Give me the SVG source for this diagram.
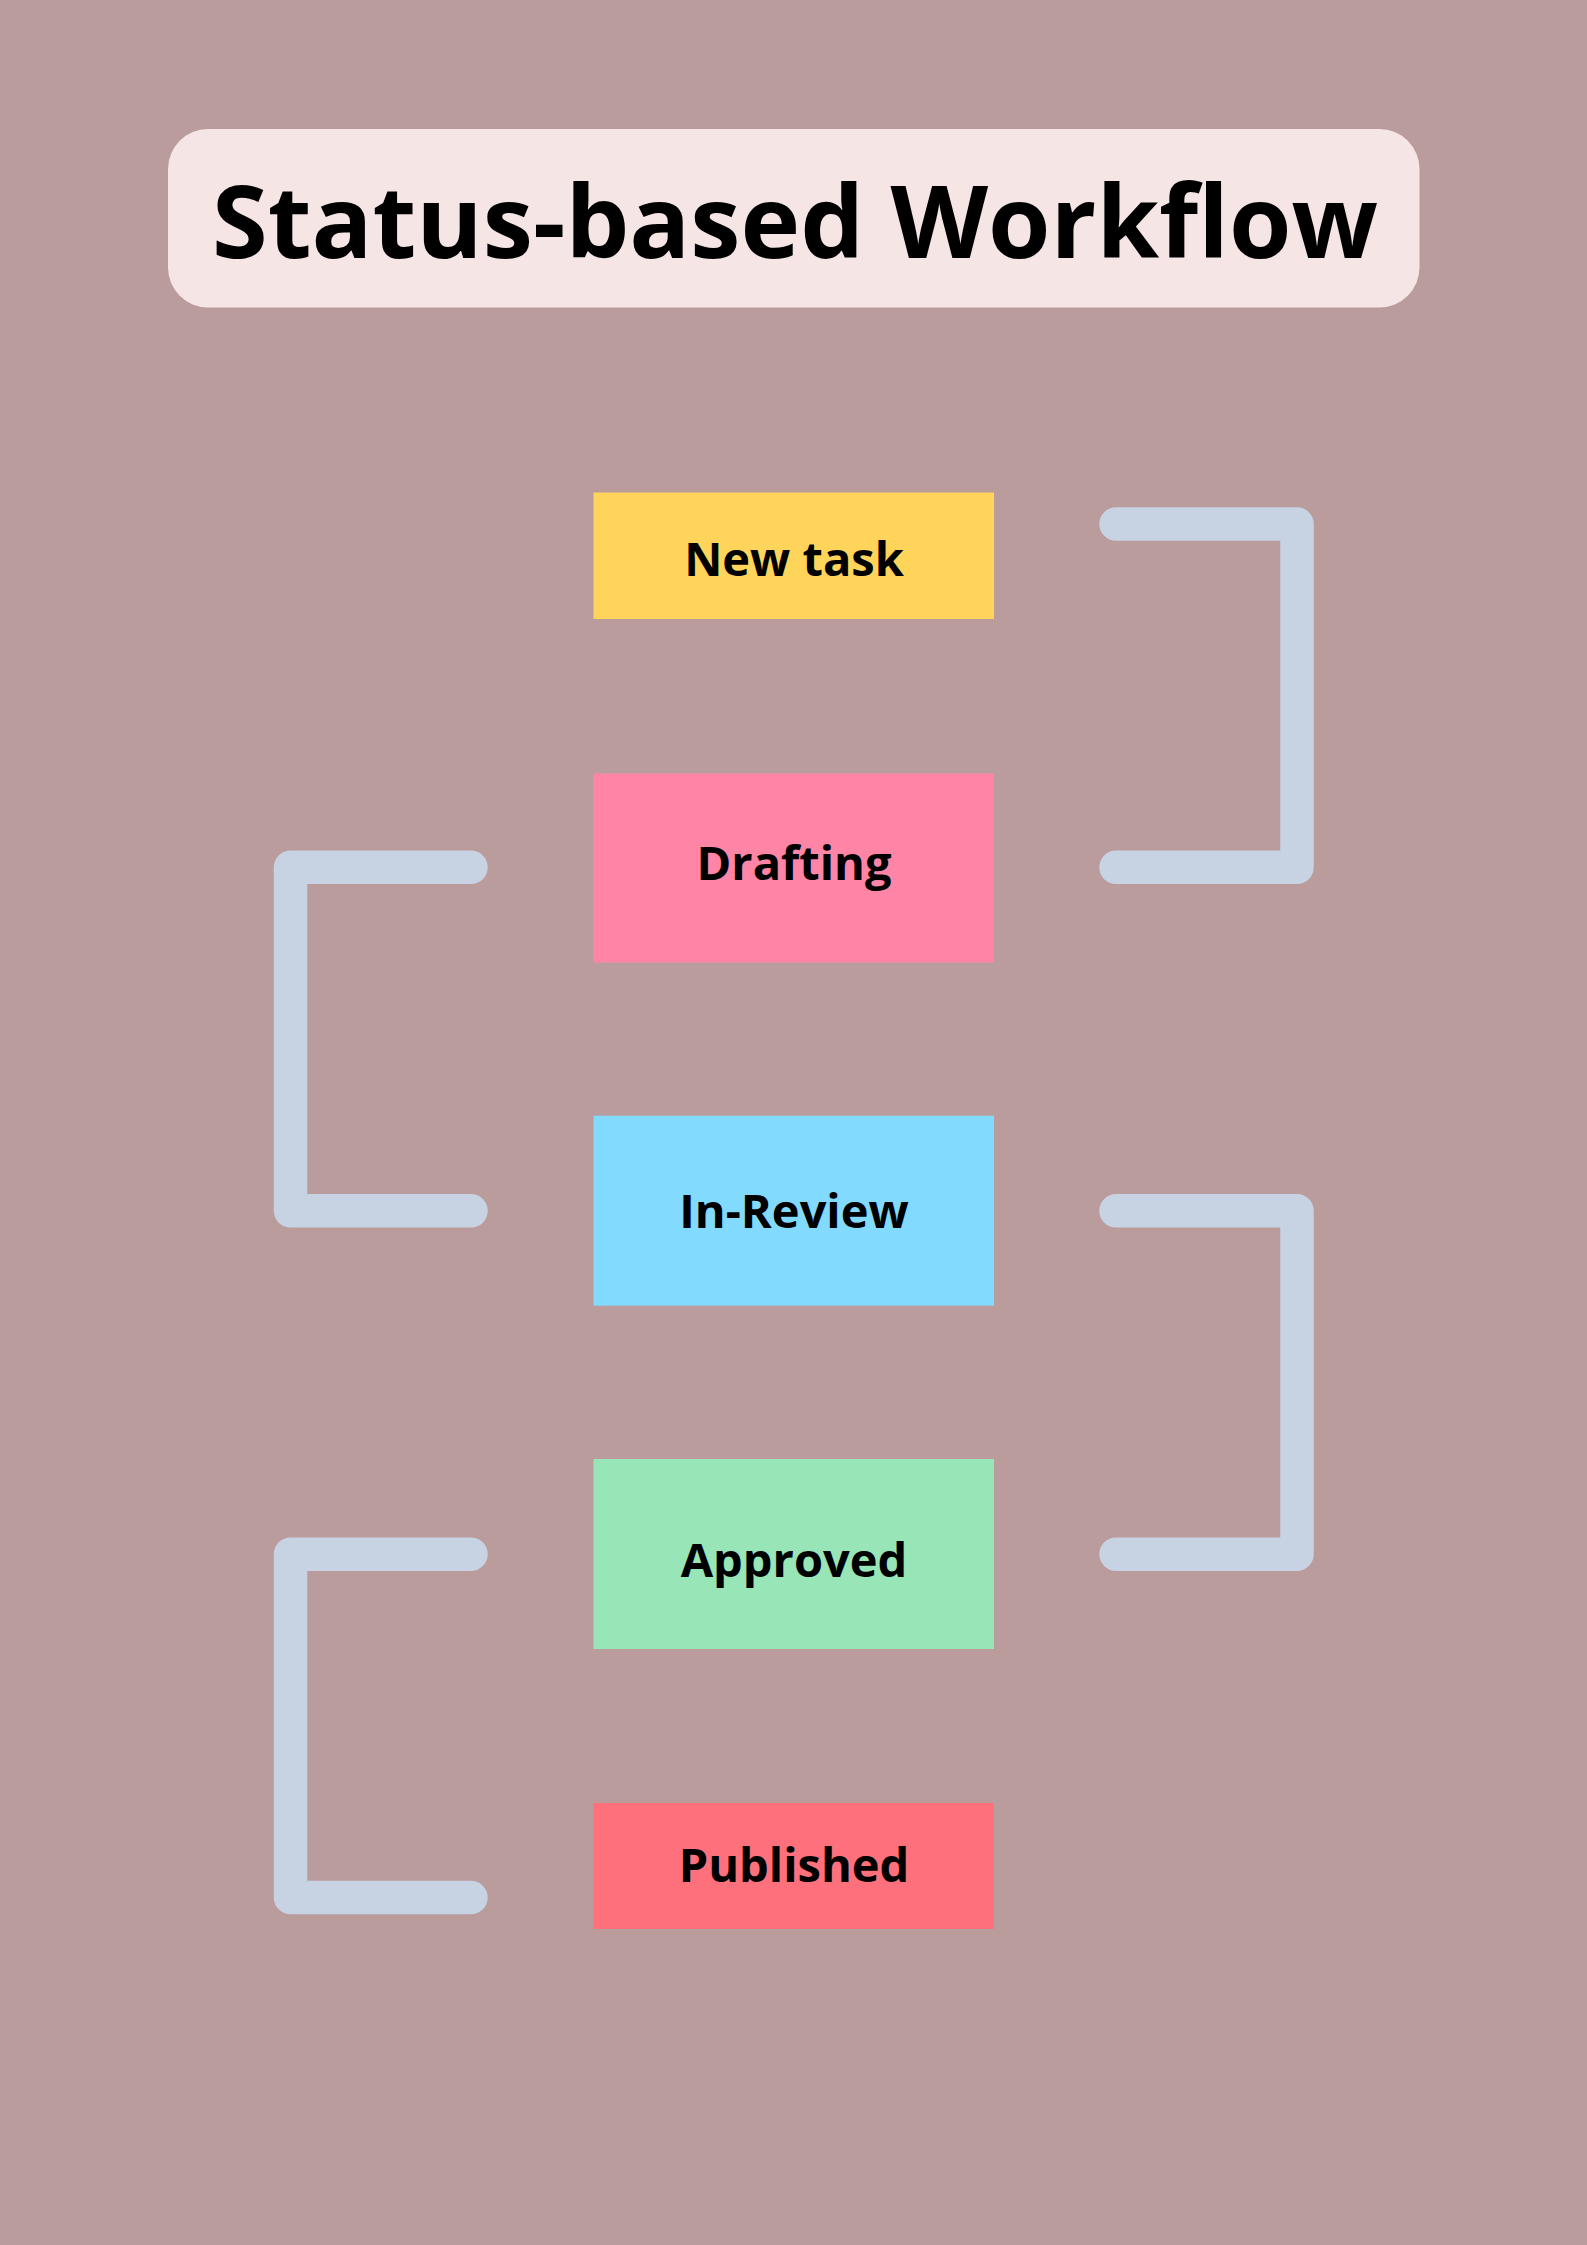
<svg xmlns="http://www.w3.org/2000/svg" width="1587" height="2245" viewBox="0 0 1587 2245">
<style>
.lbl{font-family:"Open Sans","Noto Sans","Liberation Sans",sans-serif;font-weight:700;fill:#000;text-anchor:middle}
.node-label{font-size:47px}
.title{font-size:101px}
.conn{fill:none;stroke:#C7D2E3;stroke-width:33.5;stroke-linecap:round;stroke-linejoin:round}
</style>
<rect width="1587" height="2245" fill="#BA9C9D"/>
<g id="title">
<rect x="168" y="129" width="1251.5" height="178.5" rx="40" ry="40" fill="#F5E5E5"/>
<text class="lbl title" x="795" y="258">Status-based Workflow</text>
</g>
<g id="connectors">
<path class="conn" d="M1116,524 H1297 V867.3 H1116"/>
<path class="conn" d="M471,867.3 H290.5 V1210.8 H471"/>
<path class="conn" d="M1116,1210.8 H1297 V1554.2 H1116"/>
<path class="conn" d="M471,1554.2 H290.5 V1897.5 H471"/>
</g>
<g id="node-new-task">
<rect x="593.5" y="492.5" width="400.5" height="126.5" fill="#FED45A"/>
<text class="lbl node-label" x="794" y="576">New task</text>
</g>
<g id="node-drafting">
<rect x="593.5" y="773.5" width="400.5" height="189" fill="#FF85A6"/>
<text class="lbl node-label" x="794" y="880">Drafting</text>
</g>
<g id="node-in-review">
<rect x="593.5" y="1115.7" width="400.5" height="190" fill="#82DAFF"/>
<text class="lbl node-label" x="794" y="1228.3">In-Review</text>
</g>
<g id="node-approved">
<rect x="593.5" y="1459" width="400.5" height="190" fill="#98E5B7"/>
<text class="lbl node-label" x="794" y="1576.7">Approved</text>
</g>
<g id="node-published">
<rect x="593.5" y="1803" width="400.5" height="126" fill="#FE717C"/>
<text class="lbl node-label" x="794" y="1882">Published</text>
</g>
</svg>
